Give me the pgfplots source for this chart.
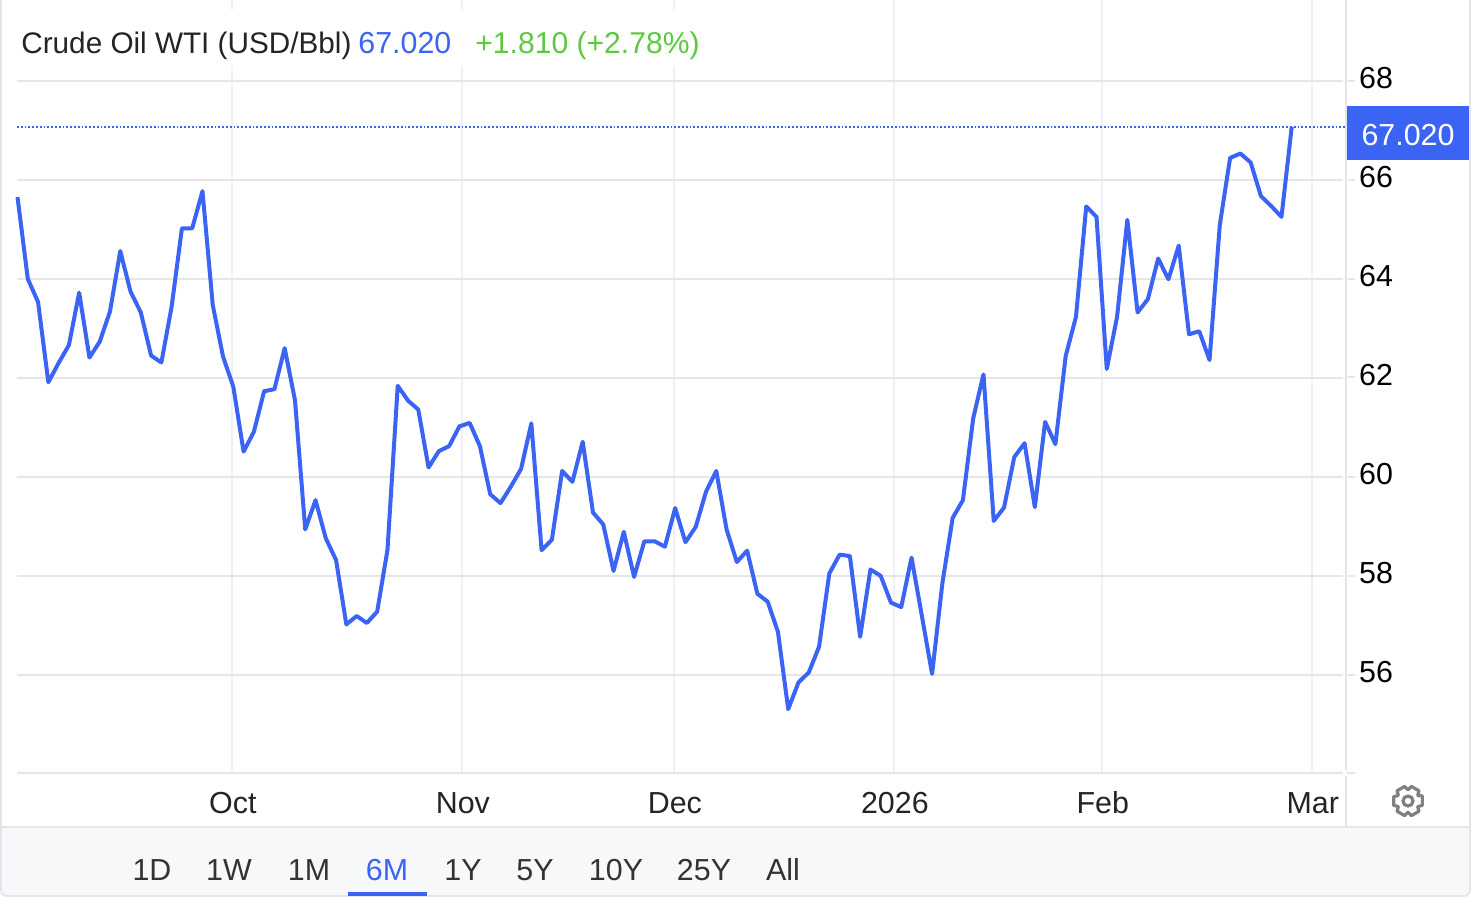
\documentclass[border=0pt]{standalone}
\usepackage{fontspec}
\usepackage{pgfplots}
\usepackage{pgfplotstable}
\pgfplotsset{compat=1.18}
\setmainfont{Liberation Sans}
\definecolor{wtiblue}{HTML}{3B64F5}
\definecolor{wtigreen}{HTML}{5CC93F}
\definecolor{gridh}{HTML}{E6E6E7}
\definecolor{gridv}{HTML}{EEF2F6}
\definecolor{panel}{HTML}{F7F8FA}
\definecolor{edge}{HTML}{E4E5E8}
\definecolor{ink}{HTML}{222426}
\definecolor{gear}{HTML}{808080}
\newcommand{\lab}{\fontsize{15.2}{18}\selectfont}

% trading day index, closing price
\pgfplotstableread{
d p
0 65.65
1 64.00
2 63.53
3 61.91
4 62.30
5 62.66
6 63.72
7 62.41
8 62.73
9 63.34
10 64.56
11 63.74
12 63.32
13 62.45
14 62.31
15 63.44
16 65.02
17 65.02
18 65.77
19 63.47
20 62.43
21 61.82
22 60.51
23 60.91
24 61.73
25 61.77
26 62.60
27 61.55
28 58.94
29 59.53
30 58.76
31 58.32
32 57.02
33 57.19
34 57.05
35 57.28
36 58.52
37 61.84
38 61.54
39 61.36
40 60.19
41 60.52
42 60.62
43 61.02
44 61.09
45 60.62
46 59.65
47 59.47
48 59.80
49 60.16
50 61.08
51 58.52
52 58.73
53 60.12
54 59.90
55 60.71
56 59.28
57 59.04
58 58.10
59 58.89
60 57.98
61 58.70
62 58.70
63 58.59
64 59.37
65 58.68
66 58.99
67 59.70
68 60.12
69 58.94
70 58.28
71 58.51
72 57.64
73 57.48
74 56.87
75 55.31
76 55.85
77 56.05
78 56.57
79 58.05
80 58.43
81 58.40
82 56.77
83 58.13
84 58.00
85 57.46
86 57.37
87 58.37
88 57.20
89 56.02
90 57.85
91 59.17
92 59.53
93 61.18
94 62.07
95 59.11
96 59.38
97 60.40
98 60.68
99 59.39
100 61.11
101 60.66
102 62.44
103 63.23
104 65.46
105 65.25
106 62.18
107 63.23
108 65.19
109 63.32
110 63.59
111 64.41
112 63.99
113 64.67
114 62.88
115 62.94
116 62.36
117 65.09
118 66.44
119 66.53
120 66.35
121 65.67
122 65.47
123 65.25
124 67.07
}\oildata

\begin{document}
\begin{tikzpicture}[x=0.5pt,y=-0.5pt]
  \useasboundingbox (0,0) rectangle (1476,900);
  % frame and range bar
  \fill[white] (0,0) rectangle (1476,900);
  \fill[panel,rounded corners=2pt] (1,827) rectangle (1470,896);
  \draw[edge,line width=0.8pt,rounded corners=3pt] (1,0) -- (1,896) -- (1470,896) -- (1470,0);
  \draw[edge,line width=0.9pt] (1,827) -- (1470,827);
  \begin{axis}[
      at={(8.5pt,-386.25pt)}, anchor=south west,
      scale only axis, width=662.75pt, height=386.25pt,
      xmin=-0.05, xmax=128.94,
      ymin=54.03, ymax=69.63,
      clip=false,
      axis line style={draw=none},
      tick style={draw=none},
      major tick length=0pt,
      grid=both,
      xmajorgrids=true, ymajorgrids=true,
      x grid style={gridv,line width=1pt},
      y grid style={gridh,line width=1pt},
      xtick={20.88,43.26,63.89,85.30,105.54,125.97},
      xticklabels={Oct,Nov,Dec,2026,Feb,Mar},
      ytick={56,58,60,62,64,66,68},
      yticklabel pos=right,
      /pgf/number format/assume math mode=true,
      xticklabel style={font=\lab,text=ink,anchor=base,inner sep=0pt,xshift=0.4pt,yshift=-20.5pt},
      yticklabel style={font=\lab,text=black,anchor=base west,inner sep=0pt,xshift=8.1pt,yshift=-3.95pt},
    ]
    \addplot[wtiblue,line width=0.9pt,dash pattern=on 0.9pt off 1pt] coordinates {(-0.05,67.07) (129.38,67.07)};
    \addplot[wtiblue,line width=2pt,line join=round] table[x=d,y=p] {\oildata};
  \end{axis}
  % axis lines
  \draw[edge,line width=1pt] (17,772.5) -- (1343,772.5);
  \draw[edge,line width=1pt] (1347,772.5) -- (1355,772.5);
  \draw[edge,line width=1pt] (1346,0) -- (1346,770);
  \draw[edge,line width=1pt] (1346,776) -- (1346,827);
  \foreach \py in {81,179.5,278.5,377,477,575.5,675}
    \draw[gridh,line width=1pt] (1348,\py) -- (1355,\py);
  % title
  \fill[white] (17,10) rectangle (710,66);
  \node[anchor=base west,inner sep=0pt,text=ink,font=\fontsize{14.85}{18}\selectfont] at (21,53) {Crude Oil WTI (USD/Bbl)};
  \node[anchor=base west,inner sep=0pt,text=wtiblue,font=\lab] at (358,53) {67.020};
  \node[anchor=base west,inner sep=0pt,text=wtigreen,font=\fontsize{15.05}{18}\selectfont] at (475,53) {+1.810 (+2.78\%)};
  % last price tag
  \fill[wtiblue] (1347,106) rectangle (1469,160);
  \node[text=white,font=\lab,inner sep=0pt,anchor=base] at (1408,145) {67.020};
  % range buttons
  \foreach \cx/\t in {152/1D,229/1W,309/1M,463/1Y,535/5Y,616/10Y,704/25Y,783/All}
    \node[text=black!80,font=\lab,inner sep=0pt,anchor=base] at (\cx,880) {\t};
  \node[text=wtiblue,font=\lab,inner sep=0pt,anchor=base] at (387,880) {6M};
  \fill[wtiblue] (348,892) rectangle (427,895.7);
  % settings gear
  \begin{scope}[shift={(1408,801)}]
    \draw[gear,line width=1.6pt,line join=round]
      (-20:15) \foreach \a in {0,60,...,300} {
        -- (\a-17:15) -- (\a+17:15) -- (\a+28:11.5) -- (\a+32:11.5)
      } -- cycle;
    \draw[gear,line width=1.6pt] (0,0) circle[radius=5];
  \end{scope}
\end{tikzpicture}
\end{document}
